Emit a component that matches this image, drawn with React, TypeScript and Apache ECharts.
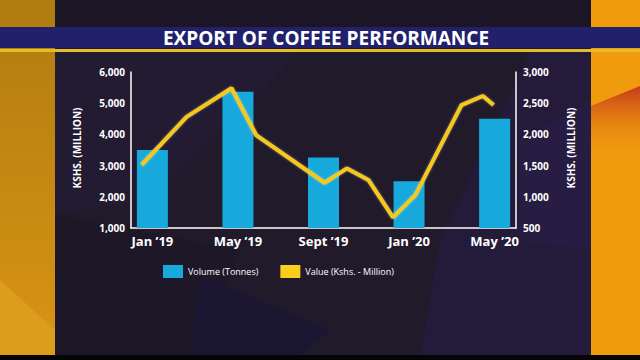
import React, { useEffect, useRef } from "react";
import * as echarts from "echarts";

const monthLabels = ["Jan ’19", "May ’19", "Sept ’19", "Jan ’20", "May ’20"];
const barMonthIndex = [0, 4, 8, 12, 16];
const volumeTonnes = [3500, 5370, 3260, 2500, 4500];
const valuePointMonth = [-0.5, 1.6, 3.7, 4.85, 8.05, 9.1, 10.1, 11.25, 12.3, 14.45, 15.45, 15.95];
const valueKshsMillion = [1510, 2280, 2740, 1990, 1225, 1455, 1270, 670, 1030, 2470, 2615, 2470];
const leftTicks = { min: 1000, max: 6000, interval: 1000 };
const rightTicks = { min: 500, max: 3000, interval: 500 };
const seriesNames = ["Volume (Tonnes)", "Value (Kshs. - Million)"];
const titleText = "EXPORT OF COFFEE PERFORMANCE";
const axisNameText = "KSHS. (MILLION)";

const FONT = "'Open Sans', 'Noto Sans', sans-serif";

export default function App() {
  const ref = useRef<HTMLDivElement>(null);
  useEffect(() => {
    if (!ref.current) return;
    const chart = echarts.init(ref.current, null, { renderer: "svg" });
    const fmt = (v: number) => v.toLocaleString("en-US");
    const bg = (z: number, shape: any, style: any, type = "rect") => ({
      type,
      z,
      silent: true,
      shape,
      style,
    });
    chart.setOption({
      animation: false,
      backgroundColor: "#211a2b",
      textStyle: { fontFamily: FONT },
      graphic: [
        // panel shapes
        bg(-20, { points: [[55, 52], [300, 52], [150, 200], [55, 215]] }, { fill: "#231b31" }, "polygon"),
        bg(-19, { points: [[55, 215], [240, 250], [200, 356], [55, 356]] }, { fill: "#1d1727" }, "polygon"),
        bg(-19, { points: [[200, 275], [330, 330], [300, 356], [190, 356]] }, { fill: "#1b1632" }, "polygon"),
        bg(-19, { points: [[530, 52], [591, 52], [591, 356], [420, 356], [440, 240]] }, { fill: "#241b3b" }, "polygon"),
        bg(-18, { points: [[520, 140], [591, 100], [591, 250], [520, 240]] }, { fill: "#271d42" }, "polygon"),
        // side strips
        bg(-10, { x: 0, y: 0, width: 55, height: 360 }, {
          fill: new echarts.graphic.LinearGradient(0, 0, 0, 1, [
            { offset: 0, color: "#b07c10" },
            { offset: 1, color: "#d99414" },
          ]),
        }),
        bg(-9, { points: [[0, 280], [55, 330], [55, 356], [0, 356]] }, { fill: "#dc9c1c" }, "polygon"),
        bg(-10, { x: 591, y: 0, width: 49, height: 360 }, { fill: "#f09a0e" }),
        bg(-9, { points: [[591, 106], [640, 86], [640, 160], [591, 160]] }, {
          fill: new echarts.graphic.LinearGradient(0, 0, 0, 1, [
            { offset: 0, color: "#c4391c" },
            { offset: 1, color: "rgba(240,154,14,0)" },
          ]),
        }, "polygon"),
        bg(-10, { x: 55, y: 0, width: 536, height: 27 }, { fill: "#1b1526" }),
        bg(-8, { x: 0, y: 355, width: 640, height: 5 }, { fill: "#050505" }),
        // title band
        bg(-5, { x: 0, y: 27, width: 640, height: 21 }, { fill: "#20216a" }),
        bg(-5, { x: 0, y: 49, width: 640, height: 3 }, { fill: "#e4bb2c" }),
        {
          type: "text",
          x: 326,
          y: 38,
          z: 10,
          style: {
            text: titleText,
            fill: "#ffffff",
            font: `bold 19px ${FONT}`,
            textAlign: "center",
            textVerticalAlign: "middle",
          },
        },
        {
          type: "text",
          x: 77,
          y: 148,
          rotation: Math.PI / 2,
          z: 10,
          style: {
            text: axisNameText,
            fill: "#ffffff",
            font: `bold 10px ${FONT}`,
            textAlign: "center",
            textVerticalAlign: "middle",
          },
        },
        {
          type: "text",
          x: 571,
          y: 148,
          rotation: Math.PI / 2,
          z: 10,
          style: {
            text: axisNameText,
            fill: "#ffffff",
            font: `bold 10px ${FONT}`,
            textAlign: "center",
            textVerticalAlign: "middle",
          },
        },
      ],
      grid: { left: 131, right: 124, top: 72, bottom: 132 },
      legend: {
        data: seriesNames,
        icon: "rect",
        left: 158,
        top: 260,
        itemWidth: 20,
        itemHeight: 13,
        itemGap: 22,
        textStyle: { color: "#ffffff", fontSize: 9, fontFamily: FONT },
      },
      xAxis: {
        type: "value",
        min: -1,
        max: 17,
        axisLine: { show: true, onZero: false, lineStyle: { color: "#ffffff", width: 1.5 } },
        axisTick: { show: false },
        splitLine: { show: false },
        axisLabel: {
          customValues: barMonthIndex,
          formatter: (v: number) => monthLabels[barMonthIndex.indexOf(v)] ?? "",
          color: "#ffffff",
          fontSize: 13,
          fontWeight: "bold",
          fontFamily: FONT,
          margin: 6,
        },
      },
      yAxis: [
        {
          type: "value",
          ...leftTicks,
          position: "left",
          axisLine: { show: true, onZero: false, lineStyle: { color: "#ffffff", width: 1.5 } },
          axisTick: { show: false },
          splitLine: { show: false },
          axisLabel: {
            formatter: fmt,
            color: "#ffffff",
            fontSize: 10,
            fontWeight: "bold",
            fontFamily: FONT,
            margin: 6,
          },
        },
        {
          type: "value",
          ...rightTicks,
          position: "right",
          axisLine: { show: true, onZero: false, lineStyle: { color: "#ffffff", width: 1.5 } },
          axisTick: { show: false },
          splitLine: { show: false },
          axisLabel: {
            formatter: fmt,
            color: "#ffffff",
            fontSize: 10,
            fontWeight: "bold",
            fontFamily: FONT,
            margin: 7,
          },
        },
      ],
      series: [
        {
          name: seriesNames[0],
          type: "bar",
          yAxisIndex: 0,
          barWidth: 31,
          itemStyle: { color: "#17a9dc" },
          data: barMonthIndex.map((m, i) => [m, volumeTonnes[i]]),
        },
        {
          name: seriesNames[1],
          type: "line",
          yAxisIndex: 1,
          symbol: "none",
          itemStyle: { color: "#f8cf1c" },
          lineStyle: { color: "#f6c915", width: 4, shadowColor: "rgba(255,240,190,0.5)", shadowBlur: 2 },
          data: valuePointMonth.map((m, i) => [m, valueKshsMillion[i]]),
        },
      ],
    });
    return () => chart.dispose();
  }, []);
  return (
    <div
      ref={ref}
      style={{ position: "fixed", left: 0, top: 0, width: 640, height: 360 }}
    />
  );
}
